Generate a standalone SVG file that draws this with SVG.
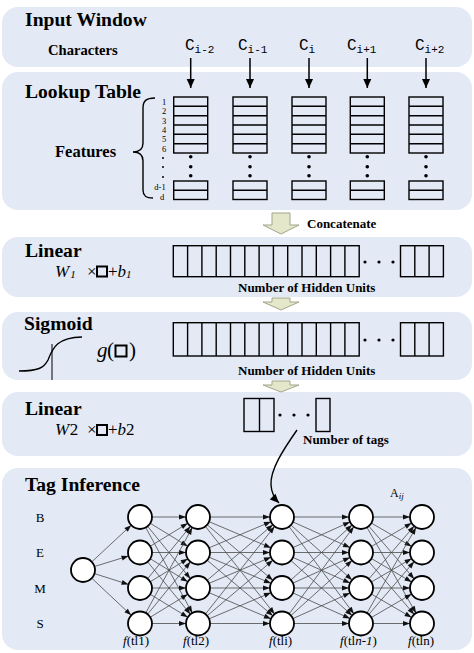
<svg xmlns="http://www.w3.org/2000/svg" width="474" height="653" viewBox="0 0 474 653">
<style>
.panel{fill:#e3e9f5;stroke:none}
.ttl{font-family:"Liberation Serif",serif;font-weight:bold;font-size:19.6px;fill:#000}
.lbl{font-family:"Liberation Serif",serif;font-weight:bold;font-size:13px;fill:#000}
.chr{font-family:"Liberation Mono",monospace;font-size:16px;fill:#000}
.sub{font-size:11px}
.num{font-family:"Liberation Serif",serif;font-size:8.5px;fill:#000}
.math{font-family:"Liberation Serif",serif;font-size:17px;fill:#000}
.it{font-style:italic}
.box{fill:none;stroke:#000;stroke-width:1.4}
.blk{fill:#e4e7c9;stroke:#a3a58c;stroke-width:1}
.e{stroke:#4a4a4a;stroke-width:0.8;fill:none;marker-end:url(#ah)}
.node{fill:#fff;stroke:#000;stroke-width:1.8}
.tag{font-family:"Liberation Serif",serif;font-size:13px;fill:#000}
</style>
<defs>
<marker id="ah" markerUnits="userSpaceOnUse" markerWidth="20" markerHeight="6" refX="19" refY="2.5" orient="auto" overflow="visible">
<path d="M0,0 L7,2.5 L0,5 z" fill="#111"/>
</marker>
<marker id="big" markerUnits="userSpaceOnUse" markerWidth="10" markerHeight="9" refX="9" refY="4" orient="auto" overflow="visible">
<path d="M0,0 L9,4 L0,8 z" fill="#000"/>
</marker>
<g id="lut">
<rect x="-17" y="97" width="34" height="56" class="box"/>
<path d="M-17 106.3h34M-17 115.7h34M-17 125h34M-17 134.3h34M-17 143.7h34" class="box"/>
<circle cx="0" cy="156.7" r="1.8"/><circle cx="0" cy="166.7" r="1.8"/><circle cx="0" cy="175.7" r="1.8"/>
<rect x="-17" y="181" width="34" height="18.5" class="box"/>
<path d="M-17 190.2h34" class="box"/>
</g>
</defs>

<!-- panels -->
<rect class="panel" x="2" y="7" width="470" height="60" rx="16"/>
<rect class="panel" x="2" y="72" width="470" height="138" rx="16"/>
<rect class="panel" x="2" y="237" width="470" height="60" rx="16"/>
<rect class="panel" x="2" y="312" width="470" height="68" rx="16"/>
<rect class="panel" x="2" y="392" width="470" height="64" rx="16"/>
<rect class="panel" x="2" y="468" width="470" height="182" rx="16"/>

<!-- Input window -->
<g id="input-window">
<text class="ttl" x="25" y="26">Input Window</text>
<text class="lbl" x="48" y="55" style="font-size:14.6px">Characters</text>
<text class="chr" x="185" y="50">C<tspan class="sub" dy="3">i-2</tspan></text>
<text class="chr" x="238" y="50">C<tspan class="sub" dy="3">i-1</tspan></text>
<text class="chr" x="299" y="50">C<tspan class="sub" dy="3">i</tspan></text>
<text class="chr" x="347" y="50">C<tspan class="sub" dy="3">i+1</tspan></text>
<text class="chr" x="415" y="50">C<tspan class="sub" dy="3">i+2</tspan></text>
</g>

<!-- Lookup table -->
<g id="lookup-table">
<text class="ttl" x="25" y="98">Lookup Table</text>
<text class="lbl" x="55" y="157" style="font-size:16.5px">Features</text>
<path d="M155 98 C146 98,143 101,143 108 L143 143 C143 149,139 152,133 152 C139 152,143 155,143 161 L143 190 C143 196,146 198,153 198" fill="none" stroke="#000" stroke-width="1.4"/>
<g class="num" text-anchor="middle">
<text x="164" y="105">1</text>
<text x="164" y="114.3">2</text>
<text x="164" y="123.6">3</text>
<text x="164" y="132.9">4</text>
<text x="164" y="142.2">5</text>
<text x="164" y="151.5">6</text>
<text x="160" y="190">d-1</text>
<text x="162" y="200">d</text>
</g>
<circle cx="163" cy="158" r="1"/><circle cx="163" cy="167" r="1"/><circle cx="163" cy="177" r="1"/>
<use href="#lut" x="190.7"/>
<use href="#lut" x="250"/>
<use href="#lut" x="309"/>
<use href="#lut" x="367.3"/>
<use href="#lut" x="426"/>
</g>

<!-- connectors -->
<g id="connectors">
<line x1="190.7" y1="58" x2="190.7" y2="88" stroke="#000" stroke-width="1.5" marker-end="url(#big)"/>
<line x1="250" y1="58" x2="250" y2="88" stroke="#000" stroke-width="1.5" marker-end="url(#big)"/>
<line x1="309" y1="58" x2="309" y2="88" stroke="#000" stroke-width="1.5" marker-end="url(#big)"/>
<line x1="367.3" y1="58" x2="367.3" y2="88" stroke="#000" stroke-width="1.5" marker-end="url(#big)"/>
<line x1="426" y1="58" x2="426" y2="88" stroke="#000" stroke-width="1.5" marker-end="url(#big)"/>
<polygon class="blk" points="272,213 290,213 290,225 299,225 281,234 263,225 272,225"/>
<polygon class="blk" points="272,298 290,298 290,302 299,302 281,310 263,302 272,302"/>
<polygon class="blk" points="272,381 290,381 290,385 299,385 281,392 263,385 272,385"/>
<path d="M297 430 C283 450,270 470,271 485 C271.5 493,274 498,279 503" fill="none" stroke="#000" stroke-width="1.4" marker-end="url(#big)"/>
<g>
<line class="e" x1="83" y1="570" x2="140" y2="517"/>
<line class="e" x1="83" y1="570" x2="140" y2="552.5"/>
<line class="e" x1="83" y1="570" x2="140" y2="588"/>
<line class="e" x1="83" y1="570" x2="140" y2="623.5"/>

<line class="e" x1="140" y1="517" x2="198" y2="517"/>
<line class="e" x1="140" y1="517" x2="198" y2="552.5"/>
<line class="e" x1="140" y1="517" x2="198" y2="588"/>
<line class="e" x1="140" y1="517" x2="198" y2="623.5"/>
<line class="e" x1="140" y1="552.5" x2="198" y2="517"/>
<line class="e" x1="140" y1="552.5" x2="198" y2="552.5"/>
<line class="e" x1="140" y1="552.5" x2="198" y2="588"/>
<line class="e" x1="140" y1="552.5" x2="198" y2="623.5"/>
<line class="e" x1="140" y1="588" x2="198" y2="517"/>
<line class="e" x1="140" y1="588" x2="198" y2="552.5"/>
<line class="e" x1="140" y1="588" x2="198" y2="588"/>
<line class="e" x1="140" y1="588" x2="198" y2="623.5"/>
<line class="e" x1="140" y1="623.5" x2="198" y2="517"/>
<line class="e" x1="140" y1="623.5" x2="198" y2="552.5"/>
<line class="e" x1="140" y1="623.5" x2="198" y2="588"/>
<line class="e" x1="140" y1="623.5" x2="198" y2="623.5"/>

<line class="e" x1="198" y1="517" x2="282" y2="517"/>
<line class="e" x1="198" y1="517" x2="282" y2="552.5"/>
<line class="e" x1="198" y1="517" x2="282" y2="588"/>
<line class="e" x1="198" y1="517" x2="282" y2="623.5"/>
<line class="e" x1="198" y1="552.5" x2="282" y2="517"/>
<line class="e" x1="198" y1="552.5" x2="282" y2="552.5"/>
<line class="e" x1="198" y1="552.5" x2="282" y2="588"/>
<line class="e" x1="198" y1="552.5" x2="282" y2="623.5"/>
<line class="e" x1="198" y1="588" x2="282" y2="517"/>
<line class="e" x1="198" y1="588" x2="282" y2="552.5"/>
<line class="e" x1="198" y1="588" x2="282" y2="588"/>
<line class="e" x1="198" y1="588" x2="282" y2="623.5"/>
<line class="e" x1="198" y1="623.5" x2="282" y2="517"/>
<line class="e" x1="198" y1="623.5" x2="282" y2="552.5"/>
<line class="e" x1="198" y1="623.5" x2="282" y2="588"/>
<line class="e" x1="198" y1="623.5" x2="282" y2="623.5"/>

<line class="e" x1="282" y1="517" x2="361" y2="517"/>
<line class="e" x1="282" y1="517" x2="361" y2="552.5"/>
<line class="e" x1="282" y1="517" x2="361" y2="588"/>
<line class="e" x1="282" y1="517" x2="361" y2="623.5"/>
<line class="e" x1="282" y1="552.5" x2="361" y2="517"/>
<line class="e" x1="282" y1="552.5" x2="361" y2="552.5"/>
<line class="e" x1="282" y1="552.5" x2="361" y2="588"/>
<line class="e" x1="282" y1="552.5" x2="361" y2="623.5"/>
<line class="e" x1="282" y1="588" x2="361" y2="517"/>
<line class="e" x1="282" y1="588" x2="361" y2="552.5"/>
<line class="e" x1="282" y1="588" x2="361" y2="588"/>
<line class="e" x1="282" y1="588" x2="361" y2="623.5"/>
<line class="e" x1="282" y1="623.5" x2="361" y2="517"/>
<line class="e" x1="282" y1="623.5" x2="361" y2="552.5"/>
<line class="e" x1="282" y1="623.5" x2="361" y2="588"/>
<line class="e" x1="282" y1="623.5" x2="361" y2="623.5"/>

<line class="e" x1="361" y1="517" x2="422" y2="517"/>
<line class="e" x1="361" y1="517" x2="422" y2="552.5"/>
<line class="e" x1="361" y1="517" x2="422" y2="588"/>
<line class="e" x1="361" y1="517" x2="422" y2="623.5"/>
<line class="e" x1="361" y1="552.5" x2="422" y2="517"/>
<line class="e" x1="361" y1="552.5" x2="422" y2="552.5"/>
<line class="e" x1="361" y1="552.5" x2="422" y2="588"/>
<line class="e" x1="361" y1="552.5" x2="422" y2="623.5"/>
<line class="e" x1="361" y1="588" x2="422" y2="517"/>
<line class="e" x1="361" y1="588" x2="422" y2="552.5"/>
<line class="e" x1="361" y1="588" x2="422" y2="588"/>
<line class="e" x1="361" y1="588" x2="422" y2="623.5"/>
<line class="e" x1="361" y1="623.5" x2="422" y2="517"/>
<line class="e" x1="361" y1="623.5" x2="422" y2="552.5"/>
<line class="e" x1="361" y1="623.5" x2="422" y2="588"/>
<line class="e" x1="361" y1="623.5" x2="422" y2="623.5"/>
</g>
</g>

<text class="lbl" x="307" y="228">Concatenate</text>

<!-- Linear 1 -->
<g id="linear1">
<text class="ttl" x="25" y="257">Linear</text>
<text class="math it" x="55" y="276.5">W<tspan class="sub" dx="1" dy="1">1</tspan></text>
<text class="math" x="87" y="276.5">×</text>
<rect x="97" y="266.5" width="10" height="10" fill="none" stroke="#000" stroke-width="2"/>
<text class="math" x="108" y="276.5">+<tspan class="it">b</tspan><tspan class="sub it" dy="1">1</tspan></text>
<rect x="173.3" y="245.7" width="185.9" height="31" class="box"/>
<path class="box" d="M187.6 245.7v31M201.9 245.7v31M216.2 245.7v31M230.5 245.7v31M244.8 245.7v31M259.1 245.7v31M273.4 245.7v31M287.7 245.7v31M302 245.7v31M316.3 245.7v31M330.6 245.7v31M344.9 245.7v31"/>
<circle cx="365" cy="262" r="1.6"/><circle cx="379" cy="262" r="1.6"/><circle cx="393" cy="262" r="1.6"/>
<rect x="400.5" y="245.7" width="42.9" height="31" class="box"/>
<path class="box" d="M414.8 245.7v31M429.1 245.7v31"/>
<text class="lbl" x="238" y="292">Number of Hidden Units</text>
</g>

<!-- Sigmoid -->
<g id="sigmoid">
<text class="ttl" x="24" y="330">Sigmoid</text>
<path d="M52 344 V380" stroke="#000" stroke-width="1" fill="none"/>
<path d="M19 371 C38 371,44 368,48 360 C53 347,58 337.5,82 337" stroke="#000" stroke-width="1.4" fill="none"/>
<text class="math it" x="97" y="357" style="font-size:21px">g</text>
<text class="math" x="107" y="357" style="font-size:21px">(</text>
<rect x="115.5" y="345.5" width="11" height="11" fill="none" stroke="#000" stroke-width="2"/>
<text class="math" x="129" y="357" style="font-size:21px">)</text>
<rect x="173.3" y="322.7" width="185.9" height="33.3" class="box"/>
<path class="box" d="M187.6 322.7v33.3M201.9 322.7v33.3M216.2 322.7v33.3M230.5 322.7v33.3M244.8 322.7v33.3M259.1 322.7v33.3M273.4 322.7v33.3M287.7 322.7v33.3M302 322.7v33.3M316.3 322.7v33.3M330.6 322.7v33.3M344.9 322.7v33.3"/>
<circle cx="365" cy="340" r="1.6"/><circle cx="379" cy="340" r="1.6"/><circle cx="393" cy="340" r="1.6"/>
<rect x="400.5" y="322.7" width="42.9" height="33.3" class="box"/>
<path class="box" d="M414.8 322.7v33.3M429.1 322.7v33.3"/>
<text class="lbl" x="238" y="375">Number of Hidden Units</text>
</g>

<!-- Linear 2 -->
<g id="linear2">
<text class="ttl" x="25" y="415">Linear</text>
<text class="math" x="55" y="435"><tspan class="it">W</tspan><tspan dx="0.5">2</tspan></text>
<text class="math" x="87" y="435">×</text>
<rect x="97" y="425" width="10" height="10" fill="none" stroke="#000" stroke-width="2"/>
<text class="math" x="108" y="435">+<tspan class="it">b</tspan>2</text>
<rect x="244" y="398.5" width="30" height="33" class="box"/>
<path class="box" d="M259.5 398.5v33"/>
<circle cx="280" cy="415" r="1.6"/><circle cx="294" cy="415" r="1.6"/><circle cx="308" cy="415" r="1.6"/>
<rect x="316" y="398.5" width="14" height="33" class="box"/>
<text class="lbl" x="303" y="444">Number of tags</text>
</g>

<!-- Tag inference -->
<g id="tag-inference">
<text class="ttl" x="25" y="491">Tag Inference</text>
<g class="tag" text-anchor="middle">
<text x="40" y="521.5">B</text>
<text x="40" y="557">E</text>
<text x="40" y="592.5">M</text>
<text x="40" y="628">S</text>
</g>
<text class="tag" x="390" y="497" style="font-size:12px">A<tspan class="it" style="font-size:9px" dy="2">ij</tspan></text>
<g class="tag">
<text x="123" y="645"><tspan class="it">f</tspan>(tl1)</text>
<text x="183" y="645"><tspan class="it">f</tspan>(tl2)</text>
<text x="269" y="645"><tspan class="it">f</tspan>(tli)</text>
<text x="340" y="645"><tspan class="it">f</tspan>(tl<tspan class="it">n-1</tspan>)</text>
<text x="408" y="645"><tspan class="it">f</tspan>(tln)</text>
</g>
</g>
<g id="n-start"><circle class="node" cx="83" cy="570" r="12"/></g>
<g id="n-1"><circle class="node" cx="140" cy="517" r="12"/><circle class="node" cx="140" cy="552.5" r="12"/><circle class="node" cx="140" cy="588" r="12"/><circle class="node" cx="140" cy="623.5" r="12"/></g>
<g id="n-2"><circle class="node" cx="198" cy="517" r="12"/><circle class="node" cx="198" cy="552.5" r="12"/><circle class="node" cx="198" cy="588" r="12"/><circle class="node" cx="198" cy="623.5" r="12"/></g>
<g id="n-i"><circle class="node" cx="282" cy="517" r="12"/><circle class="node" cx="282" cy="552.5" r="12"/><circle class="node" cx="282" cy="588" r="12"/><circle class="node" cx="282" cy="623.5" r="12"/></g>
<g id="n-n1"><circle class="node" cx="361" cy="517" r="12"/><circle class="node" cx="361" cy="552.5" r="12"/><circle class="node" cx="361" cy="588" r="12"/><circle class="node" cx="361" cy="623.5" r="12"/></g>
<g id="n-n"><circle class="node" cx="422" cy="517" r="12"/><circle class="node" cx="422" cy="552.5" r="12"/><circle class="node" cx="422" cy="588" r="12"/><circle class="node" cx="422" cy="623.5" r="12"/></g>
</svg>
